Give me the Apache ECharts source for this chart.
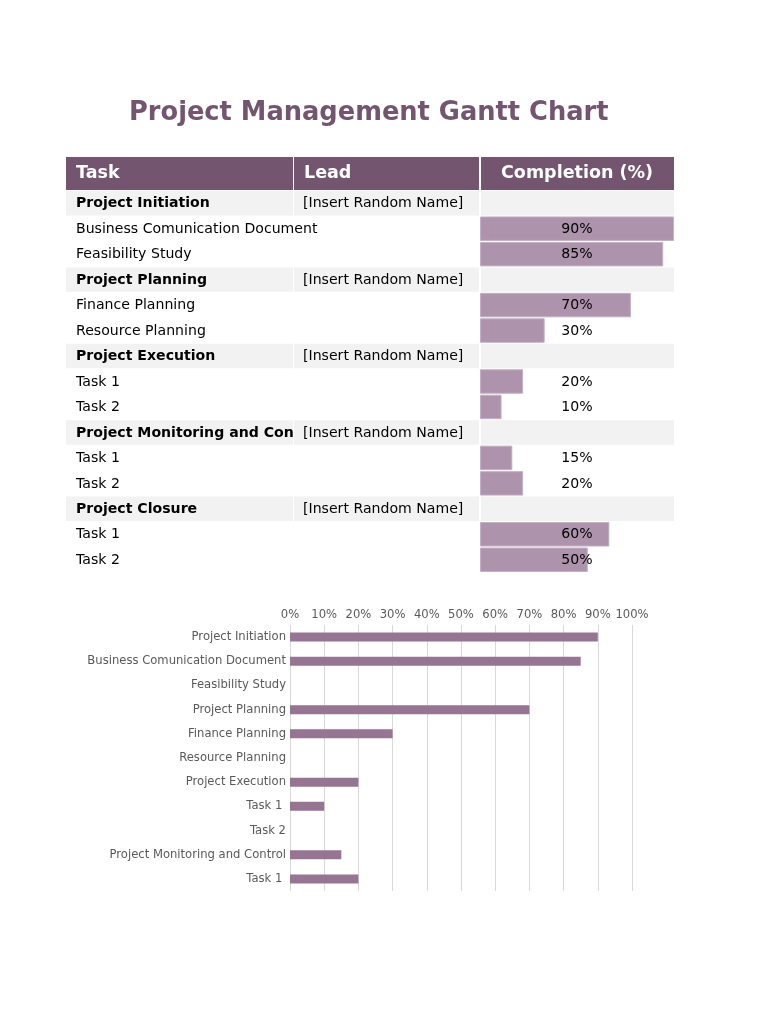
<!DOCTYPE html>
<html>
<head>
<meta charset="utf-8">
<script src="https://cdn.jsdelivr.net/npm/echarts@6/dist/echarts.min.js"></script>
<style>
  html, body { margin: 0; padding: 0; background: #fff; }
  #main { width: 768px; height: 1024px; }
</style>
</head>
<body>
<div id="main"></div>
<script>
// table data
let headers = ["Task", "Lead", "Completion (%)"]
let taskNames = ["Project Initiation", "Business Comunication Document", "Feasibility Study",
    "Project Planning", "Finance Planning", "Resource Planning",
    "Project Execution", "Task 1", "Task 2",
    "Project Monitoring and Control", "Task 1", "Task 2",
    "Project Closure", "Task 1", "Task 2"]
let isPhase = [1, 0, 0, 1, 0, 0, 1, 0, 0, 1, 0, 0, 1, 0, 0]
let leads = ["[Insert Random Name]", "", "", "[Insert Random Name]", "", "",
    "[Insert Random Name]", "", "", "[Insert Random Name]", "", "",
    "[Insert Random Name]", "", ""]
let completion = [null, 90, 85, null, 70, 30, null, 20, 10, null, 15, 20, null, 60, 50]

// chart data
let ganttLabels = ["Project Initiation", "Business Comunication Document", "Feasibility Study",
    "Project Planning", "Finance Planning", "Resource Planning", "Project Execution",
    "Task 1 ", "Task 2", "Project Monitoring and Control", "Task 1 "]
let ganttValues = [90, 85, 0, 70, 30, 0, 20, 10, 0, 15, 20]

const FONT = "DejaVu Sans"
const PURPLE = "#735570"
const rowIdx = taskNames.map((_, i) => i)

let chart = echarts.init(document.getElementById("main"), null, {renderer: "canvas"})

/** 表格行：灰色标题行 + 文字 */
function renderRow(params, api){
    let i = api.value(1)
    let y = api.coord([0, i])[1]
    let h = api.size([0, 1])[1]
    let top = y - h / 2
    let kids = []
    if(isPhase[i]){
        kids.push({type: "rect", shape: {x: 66, y: top, width: 227, height: h - 1}, style: {fill: "#f2f2f2"}})
        kids.push({type: "rect", shape: {x: 294, y: top, width: 185, height: h - 1}, style: {fill: "#f2f2f2"}})
        kids.push({type: "rect", shape: {x: 481, y: top, width: 193, height: h - 1}, style: {fill: "#f2f2f2"}})
    }
    let ts = {text: taskNames[i], x: 76, y: y, fill: "#000", fontFamily: FONT, fontSize: 14.1,
        fontWeight: isPhase[i] ? "bold" : "normal", verticalAlign: "middle", align: "left"}
    if(leads[i]){
        ts.width = 221
        ts.overflow = "truncate"
        ts.ellipsis = ""
    }
    kids.push({type: "text", style: ts})
    if(leads[i]){
        kids.push({type: "text", style: {text: leads[i], x: 303, y: y, fill: "#000", fontFamily: FONT,
            fontSize: 14.1, verticalAlign: "middle", align: "left"}})
    }
    return {type: "group", children: kids}
}

/** 完成度数据条 */
function renderBar(params, api){
    let i = api.value(1)
    let v = api.value(0)
    if(completion[i] == null) return null
    let p0 = api.coord([0, i])
    let p1 = api.coord([v, i])
    let mid = api.coord([45, i])
    let h = api.size([0, 1])[1]
    return {type: "group", children: [
        {type: "rect", shape: {x: p0[0] + 0.5, y: p0[1] - h / 2 + 0.5, width: p1[0] - p0[0] - 1, height: h - 2},
            style: {fill: "#ae93ad", stroke: "#c4afc3", lineWidth: 1}},
        {type: "text", style: {text: completion[i] + "%", x: mid[0], y: p0[1], fill: "#000", fontFamily: FONT,
            fontSize: 14.1, align: "center", verticalAlign: "middle"}}
    ]}
}

let option = {
    backgroundColor: "#fff",
    animation: false,
    textStyle: {fontFamily: FONT},
    title: {
        text: "Project Management Gantt Chart",
        left: 124, top: 95,
        textStyle: {color: PURPLE, fontSize: 25.7, fontWeight: "bold", fontFamily: FONT}
    },
    graphic: [
        {type: "rect", shape: {x: 66, y: 157, width: 227, height: 33}, style: {fill: PURPLE}},
        {type: "rect", shape: {x: 294, y: 157, width: 185, height: 33}, style: {fill: PURPLE}},
        {type: "rect", shape: {x: 481, y: 157, width: 193, height: 33}, style: {fill: PURPLE}},
        {type: "text", style: {text: headers[0], x: 76, y: 173, fill: "#fff", font: "bold 17.5px " + FONT, verticalAlign: "middle"}},
        {type: "text", style: {text: headers[1], x: 304, y: 173, fill: "#fff", font: "bold 17.5px " + FONT, verticalAlign: "middle"}},
        {type: "text", style: {text: headers[2], x: 577, y: 173, fill: "#fff", font: "bold 17.5px " + FONT, align: "center", verticalAlign: "middle"}}
    ],
    grid: [
        {left: 66, top: 191, width: 608, height: 382},
        {left: 480, top: 191, width: 194, height: 382},
        {left: 290, top: 625, width: 342, height: 266}
    ],
    xAxis: [
        {gridIndex: 0, type: "value", min: 0, max: 1, show: false},
        {gridIndex: 1, type: "value", min: 0, max: 90, show: false},
        {
            gridIndex: 2, type: "value", position: "top", min: 0, max: 100, interval: 10,
            axisLine: {show: false}, axisTick: {show: false},
            axisLabel: {formatter: v => v + "%", color: "#595959", fontSize: 11.6, fontFamily: FONT, margin: 4},
            splitLine: {show: true, lineStyle: {color: "#d9d9d9", width: 1}}
        }
    ],
    yAxis: [
        {gridIndex: 0, type: "category", inverse: true, data: rowIdx, show: false},
        {gridIndex: 1, type: "category", inverse: true, data: rowIdx, show: false},
        {
            gridIndex: 2, type: "category", inverse: true, data: ganttLabels,
            axisLine: {show: false}, axisTick: {show: false},
            axisLabel: {color: "#595959", fontSize: 11.6, fontFamily: FONT, margin: 4}
        }
    ],
    series: [
        {
            type: "custom", xAxisIndex: 0, yAxisIndex: 0, renderItem: renderRow,
            data: rowIdx.map(i => [0, i]), silent: true
        },
        {
            type: "custom", xAxisIndex: 1, yAxisIndex: 1, renderItem: renderBar,
            data: rowIdx.map(i => [completion[i] == null ? 0 : completion[i], i]), silent: true
        },
        {
            type: "bar", xAxisIndex: 2, yAxisIndex: 2, data: ganttValues, barWidth: 9,
            itemStyle: {color: "#967592"}, silent: true
        }
    ]
}
chart.setOption(option)
</script>
</body>
</html>
